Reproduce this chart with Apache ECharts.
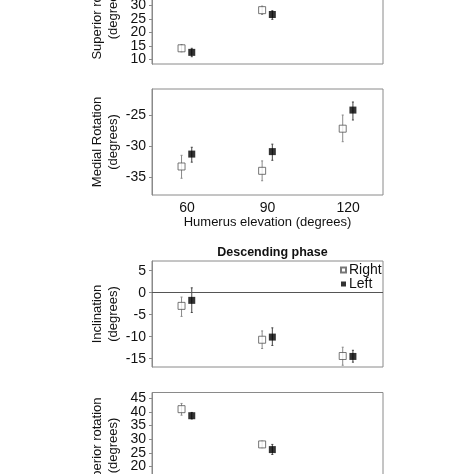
<!DOCTYPE html>
<html>
<head>
<meta charset="utf-8">
<script src="https://cdn.jsdelivr.net/npm/echarts@6/dist/echarts.min.js"></script>
<style>
html,body{margin:0;padding:0;background:#fff;}
#chart{width:474px;height:474px;}
</style>
</head>
<body>
<div id="chart"></div>
<script>
// Humerus elevation categories (degrees)
const elevations = [60, 90, 120];
const xTickLabels = [60, 90, 120];

// Panel A: Superior rotation (ascending phase, partly visible)
const supAscRight   = [14.1, 28.2, null];
const supAscRightLo = [12.8, 26.6, null];
const supAscRightHi = [15.5, 29.7, null];
const supAscLeft    = [12.6, 26.6, null];
const supAscLeftLo  = [11.0, 24.8, null];
const supAscLeftHi  = [14.1, 28.0, null];

// Panel B: Medial rotation
const medRight   = [-33.3, -34.0, -27.2];
const medRightLo = [-35.2, -35.6, -29.3];
const medRightHi = [-31.5, -32.4, -25.0];
const medLeft    = [-31.3, -30.9, -24.2];
const medLeftLo  = [-32.6, -32.3, -25.8];
const medLeftHi  = [-30.2, -29.7, -22.9];

// Panel C: Inclination (descending phase)
const incRight   = [-3.0, -10.7, -14.4];
const incRightLo = [-5.4, -12.7, -16.5];
const incRightHi = [-1.0, -8.7, -12.4];
const incLeft    = [-1.75, -10.1, -14.5];
const incLeftLo  = [-4.5, -12.0, -15.8];
const incLeftHi  = [1.1, -8.0, -13.1];

// Panel D: Superior rotation (descending phase, partly visible)
const supDesRight   = [41.0, 28.1, null];
const supDesRightLo = [38.8, 26.9, null];
const supDesRightHi = [43.1, 29.3, null];
const supDesLeft    = [38.6, 26.2, null];
const supDesLeftLo  = [37.4, 24.4, null];
const supDesLeftHi  = [39.8, 28.1, null];

// Tick labels
const supTicks = [10, 15, 20, 25, 30, 35, 40, 45];
const medTicks = [-35, -30, -25];
const incTicks = [-15, -10, -5, 0, 5];

const FONT = '"Liberation Sans", Arial, sans-serif';
const rightOffset = -2.0, leftOffset = 1.8;
// the tightly packed superior-rotation ticks are split over two overlaid axes
const supTicksEven = supTicks.filter((v, k) => k % 2 === 0);
const supTicksOdd  = supTicks.filter((v, k) => k % 2 === 1);

const grids = [
  {left:152, right:91, top:-41, height:105},
  {left:152, right:91, top:89, height:106},
  {left:152, right:91, top:261, height:106},
  {left:152, right:91, top:392.5, height:106}
].map(g => Object.assign({show:true, borderColor:'#8a8a8a', borderWidth:1, backgroundColor:'transparent',
  containLabel:false, outerBoundsMode:'none'}, g));

function xAx(i, showLabels, name) {
  return {
    type:'value', gridIndex:i, min:47, max:133,
    splitLine:{show:false}, axisLine:{show:false}, axisTick:{show:false},
    axisLabel:{show:showLabels, customValues:xTickLabels, fontFamily:FONT, fontSize:14, color:'#111', margin:6,
      hideOverlap:false},
    name: name || '', nameLocation:'middle', nameGap:20,
    nameTextStyle:{fontFamily:FONT, fontSize:13, color:'#111'}
  };
}
function yAx(i, min, max, ticks, name) {
  return {
    type:'value', gridIndex:i, min:min, max:max, position:'left',
    splitLine:{show:false},
    axisLine:{show:true, lineStyle:{color:'#8a8a8a'}},
    axisTick:{show:true, length:3, customValues:ticks, lineStyle:{color:'#8a8a8a'}},
    axisLabel:{customValues:ticks, fontFamily:FONT, fontSize:14, color:'#111', margin:6,
      hideOverlap:false},
    name:name, nameLocation:'middle', nameRotate:90, nameGap:31,
    nameTextStyle:{fontFamily:FONT, fontSize:13, color:'#111', lineHeight:16}
  };
}

function pts(vals, off) {
  const out = [];
  vals.forEach((v, k) => { if (v !== null) out.push([elevations[k] + off, v]); });
  return out;
}
function errs(lo, hi, off) {
  const out = [];
  lo.forEach((v, k) => { if (v !== null) out.push([elevations[k] + off, v, hi[k]]); });
  return out;
}
function errSeries(i, lo, hi, off, color) {
  return {
    type:'custom', xAxisIndex:i, yAxisIndex:i, silent:true, z:1,
    data: errs(lo, hi, off),
    encode:{x:0, y:[1,2]},
    renderItem: function(params, api) {
      const x = api.value(0);
      const p1 = api.coord([x, api.value(1)]);
      const p2 = api.coord([x, api.value(2)]);
      const st = {stroke:color, lineWidth:1};
      return {type:'group', children:[
        {type:'line', shape:{x1:p1[0], y1:p1[1], x2:p2[0], y2:p2[1]}, style:st},
        {type:'line', shape:{x1:p1[0]-1, y1:p1[1], x2:p1[0]+1, y2:p1[1]}, style:st},
        {type:'line', shape:{x1:p2[0]-1, y1:p2[1], x2:p2[0]+1, y2:p2[1]}, style:st}
      ]};
    }
  };
}
const rightStyle = {color:'#ffffff', borderColor:'#555', borderWidth:1};
const leftStyle = {color:'#000000'};
function markerSeries(i, name, vals, off, style, extra) {
  return Object.assign({
    type:'scatter', name:name, xAxisIndex:i, yAxisIndex:i, z:3,
    symbol:'rect', symbolSize:7, itemStyle:style,
    data: pts(vals, off)
  }, extra || {});
}

const panels = [
  {r:supAscRight, rl:supAscRightLo, rh:supAscRightHi, l:supAscLeft, ll:supAscLeftLo, lh:supAscLeftHi},
  {r:medRight, rl:medRightLo, rh:medRightHi, l:medLeft, ll:medLeftLo, lh:medLeftHi},
  {r:incRight, rl:incRightLo, rh:incRightHi, l:incLeft, ll:incLeftLo, lh:incLeftHi},
  {r:supDesRight, rl:supDesRightLo, rh:supDesRightHi, l:supDesLeft, ll:supDesLeftLo, lh:supDesLeftHi}
];

const series = [];
panels.forEach((p, i) => {
  series.push(errSeries(i, p.rl, p.rh, rightOffset, '#8a8a8a'));
  series.push(errSeries(i, p.ll, p.lh, leftOffset, '#444'));
  const extra = (i === 2) ? {markLine:{silent:true, symbol:['none','none'], label:{show:false},
      lineStyle:{color:'#555', type:'solid', width:1}, data:[{yAxis:0}]}} : null;
  series.push(markerSeries(i, 'Right', p.r, rightOffset, rightStyle, extra));
  series.push(markerSeries(i, 'Left', p.l, leftOffset, leftStyle));
});

const option = {
  animation:false,
  backgroundColor:'#fff',
  title:{text:'Descending phase', left:267.5, top:241, textAlign:'center',
    textStyle:{fontFamily:FONT, fontSize:12.5, fontWeight:'bold', color:'#111'}},
  legend:{data:['Right','Left'], orient:'vertical', left:340, top:263, itemWidth:5, itemHeight:5,
    itemGap:0, padding:0, icon:'rect',
    textStyle:{fontFamily:FONT, fontSize:14, color:'#111', lineHeight:11, padding:[0,0,0,-2]}},
  grid: grids,
  xAxis:[xAx(0,false), xAx(1,true,'Humerus elevation (degrees)'), xAx(2,false), xAx(3,true)],
  yAxis:[
    yAx(0, 8.3, 47.1, supTicksEven, 'Superior rotation\n(degrees)'),
    yAx(1, -37.9, -20.8, medTicks, 'Medial Rotation\n(degrees)'),
    yAx(2, -16.9, 7.2, incTicks, 'Inclination\n(degrees)'),
    yAx(3, 8.3, 47.1, supTicksEven, 'Superior rotation\n(degrees)'),
    yAx(0, 8.3, 47.1, supTicksOdd, ''),
    yAx(3, 8.3, 47.1, supTicksOdd, '')
  ],
  series: series
};
const chart = echarts.init(document.getElementById('chart'), null, {renderer:'canvas'});
chart.setOption(option);
</script>
</body>
</html>
